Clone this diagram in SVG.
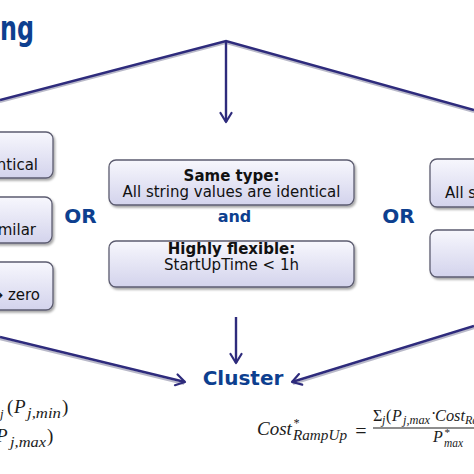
<svg xmlns="http://www.w3.org/2000/svg" width="474" height="474" viewBox="0 0 474 474">
<defs>
<linearGradient id="boxg" x1="0" y1="0" x2="0" y2="1">
<stop offset="0" stop-color="#f7f7fd"/>
<stop offset="1" stop-color="#d3d3ec"/>
</linearGradient>
<filter id="sh" x="-10%" y="-10%" width="130%" height="140%">
<feDropShadow dx="1.5" dy="2" stdDeviation="1" flood-color="#000" flood-opacity="0.35"/>
</filter>
<marker id="ah" markerUnits="userSpaceOnUse" markerWidth="14" markerHeight="14" viewBox="-12 -7 14 14" refX="0" refY="0" orient="auto">
<path d="M-9,-5.5 L0,0 L-9,5.5" fill="none" stroke="#2e2b7c" stroke-width="2.2" stroke-linecap="round" stroke-linejoin="round"/>
</marker>
<style>
.box{fill:url(#boxg);stroke:#5c5c70;stroke-width:1.3;filter:url(#sh)}
.t{font-family:"DejaVu Sans",Verdana,sans-serif;font-size:15px;fill:#111}
.b{font-weight:bold}
.blue{font-family:"DejaVu Sans",Verdana,sans-serif;font-weight:bold;fill:#0d3f8f}
.ln{fill:none;stroke:#2e2b7c;stroke-width:2.4;stroke-linejoin:miter}
.lsh{fill:none;stroke:#b9b9c9;stroke-width:2.2}
.m{font-family:"Liberation Serif","DejaVu Serif",serif;font-style:italic;fill:#1c1c1c}
</style>
</defs>
<rect width="474" height="474" fill="#ffffff"/>

<text class="blue" x="0" y="40" font-size="34" textLength="34" lengthAdjust="spacingAndGlyphs">ng</text>

<g id="connectors">
<path class="lsh" d="M0,102 L226,43 L474,112"/>
<path class="lsh" d="M0,339 L184,384"/>
<path class="lsh" d="M474,328 L293,384"/>
<path class="ln" d="M0,100 L226,41 L474,110"/>
<path class="ln" d="M226,41 L226,122" marker-end="url(#ah)"/>
<path class="ln" d="M236,317 L236,363" marker-end="url(#ah)"/>
<path class="ln" d="M0,337 L185,382" marker-end="url(#ah)"/>
<path class="ln" d="M474,326 L292,382" marker-end="url(#ah)"/>
</g>

<g id="left-box-1">
<rect class="box" x="-20" y="132" width="73" height="46" rx="7"/>
<text class="t" x="38" y="170" text-anchor="end">ntical</text>
</g>
<g id="left-box-2">
<rect class="box" x="-20" y="197" width="72" height="46" rx="7"/>
<text class="t" x="36" y="235" text-anchor="end">milar</text>
</g>
<g id="left-box-3">
<rect class="box" x="-20" y="262" width="73" height="48" rx="7"/>
<text class="t" x="40" y="300" text-anchor="end">→ zero</text>
</g>

<g id="or-left"><text class="blue" x="80.5" y="223" font-size="20" text-anchor="middle">OR</text></g>

<g id="same-type">
<rect class="box" x="109" y="160" width="245" height="45" rx="7"/>
<text class="t b" x="231.5" y="181" text-anchor="middle">Same type:</text>
<text class="t" x="231.5" y="197" text-anchor="middle">All string values are identical</text>
</g>
<g id="and"><text class="blue" x="234.5" y="222" font-size="16" text-anchor="middle">and</text></g>
<g id="highly-flexible">
<rect class="box" x="109" y="241" width="245" height="46" rx="7"/>
<text class="t b" x="231.5" y="254" text-anchor="middle">Highly flexible:</text>
<text class="t" x="231.5" y="270" text-anchor="middle">StartUpTime &lt; 1h</text>
</g>

<g id="or-right"><text class="blue" x="398.5" y="223" font-size="20" text-anchor="middle">OR</text></g>

<g id="right-box-1">
<rect class="box" x="430" y="159" width="70" height="48" rx="7"/>
<text class="t" x="445" y="198">All s</text>
</g>
<g id="right-box-2">
<rect class="box" x="430" y="230" width="70" height="47" rx="7"/>
</g>

<g id="cluster"><text class="blue" x="243" y="385" font-size="20" text-anchor="middle">Cluster</text></g>

<g id="formula-left">
<text class="m" font-size="19"><tspan x="0" y="418" font-size="13">j</tspan><tspan x="7" y="413" font-style="normal">(</tspan><tspan x="14" y="413">P</tspan><tspan x="27" y="418" font-size="14" textLength="34" lengthAdjust="spacingAndGlyphs">j,min</tspan><tspan x="62" y="413" font-style="normal">)</tspan></text>
<text class="m" font-size="19"><tspan x="-4" y="442">P</tspan><tspan x="10" y="447" font-size="14" textLength="36" lengthAdjust="spacingAndGlyphs">j,max</tspan><tspan x="47" y="442" font-style="normal">)</tspan></text>
</g>

<g id="formula-right">
<text class="m" font-size="19"><tspan x="257" y="435">Cost</tspan><tspan x="293" y="427" font-size="12">*</tspan><tspan x="293" y="440" font-size="14" textLength="54" lengthAdjust="spacingAndGlyphs">RampUp</tspan></text>
<text class="m" x="354" y="438" font-size="20" font-style="normal">=</text>
<line x1="373" y1="428" x2="474" y2="428" stroke="#1c1c1c" stroke-width="1.2"/>
<text class="m" font-size="16"><tspan x="373" y="421" font-style="normal">Σ</tspan><tspan x="382" y="424" font-size="12">j</tspan><tspan x="386" y="421" font-style="normal">(</tspan><tspan x="392" y="421">P</tspan><tspan x="403" y="424" font-size="12" textLength="27" lengthAdjust="spacingAndGlyphs">j,max</tspan><tspan x="431" y="419" font-style="normal">·</tspan><tspan x="435" y="421" textLength="30" lengthAdjust="spacingAndGlyphs">Cost</tspan><tspan x="465" y="424" font-size="12">Re</tspan></text>
<text class="m" font-size="16"><tspan x="433" y="442">P</tspan><tspan x="444" y="436" font-size="11">*</tspan><tspan x="444" y="447" font-size="12" textLength="19" lengthAdjust="spacingAndGlyphs">max</tspan></text>
</g>
</svg>
